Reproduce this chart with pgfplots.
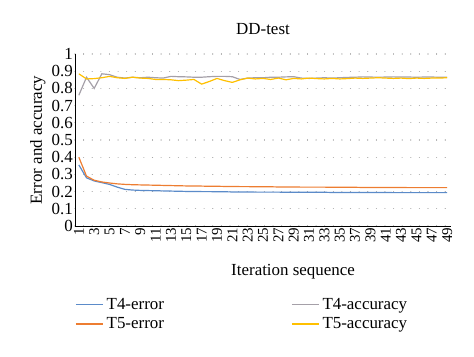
\documentclass[border=0pt]{standalone}
\usepackage{pgfplots}
\pgfplotsset{compat=1.18}
\usepackage{fontspec}
\setmainfont{Liberation Serif}
\definecolor{cblue}{HTML}{5B8BC9}
\definecolor{corange}{HTML}{ED7D31}
\definecolor{cgray}{HTML}{A5A0A8}
\definecolor{cyellow}{HTML}{FFC000}
\begin{document}
\begin{tikzpicture}
\useasboundingbox (-75bp,-131bp) rectangle (399bp,226bp);
\begin{axis}[
  at={(0,0)}, anchor=south west,
  scale only axis, width=376bp, height=172bp,
  xmin=0.5, xmax=49.5, ymin=0, ymax=1,
  xtick={1,3,...,49},
  ytick={0,0.1,...,1.0},
  yticklabels={0,0.1,0.2,0.3,0.4,0.5,0.6,0.7,0.8,0.9,1},
  axis x line*=bottom, axis y line*=left,
  axis line style={black, line width=0.9pt, -},
  major tick length=0pt,
  ymajorgrids,
  grid style={gray!70, line width=1.1pt, dash pattern=on 0.01pt off 8.6bp, line cap=round},
  x tick label style={rotate=90, anchor=east, font=\fontsize{15}{16}\selectfont, inner sep=1.5pt},
  y tick label style={font=\fontsize{17}{18}\selectfont, inner sep=2pt},
  /pgf/number format/assume math mode=true,
  title={DD-test},
  title style={font=\fontsize{17}{19}\selectfont, at={(0.5,1)}, anchor=south, yshift=10bp},
  xlabel={Iteration sequence},
  xlabel style={font=\fontsize{17}{19}\selectfont, at={(0.58,0)}, anchor=north, yshift=-35bp},
  ylabel={Error and accuracy},
  ylabel style={font=\fontsize{17}{19}\selectfont, at={(0,0.5)}, anchor=south, yshift=26bp},
  legend columns=2,
  legend style={draw=none, at={(0,-0.40)}, anchor=north west, font=\fontsize{17}{19}\selectfont,
    /tikz/every even column/.append style={column sep=124bp}, row sep=1bp, inner sep=0pt,
    nodes={inner sep=3pt}},
  legend cell align=left,
  legend image code/.code={\draw[#1, line width=1.5pt] (0bp,0bp) -- (27bp,0bp);},
]
\addplot[color=cblue, line width=1.2pt, mark=none] coordinates {
(1,0.355)(2,0.28)(3,0.262)(4,0.252)(5,0.242)(6,0.226)(7,0.213)(8,0.209)(9,0.207)(10,0.206)
(11,0.205)(12,0.204)(13,0.203)(14,0.202)(15,0.201)(16,0.201)(17,0.200)(18,0.200)(19,0.199)(20,0.199)
(21,0.198)(22,0.198)(23,0.198)(24,0.197)(25,0.197)(26,0.197)(27,0.197)(28,0.196)(29,0.196)(30,0.196)
(31,0.196)(32,0.196)(33,0.196)(34,0.195)(35,0.195)(36,0.195)(37,0.195)(38,0.195)(39,0.195)(40,0.195)
(41,0.195)(42,0.194)(43,0.194)(44,0.194)(45,0.194)(46,0.194)(47,0.194)(48,0.194)(49,0.194)};
\addlegendentry{T4-error}
\addplot[color=cgray, line width=1.2pt, mark=none] coordinates {
(1,0.76)(2,0.865)(3,0.80)(4,0.885)(5,0.88)(6,0.865)(7,0.86)(8,0.865)(9,0.862)(10,0.865)
(11,0.862)(12,0.86)(13,0.87)(14,0.868)(15,0.867)(16,0.865)(17,0.865)(18,0.868)(19,0.87)(20,0.87)
(21,0.868)(22,0.852)(23,0.86)(24,0.862)(25,0.862)(26,0.865)(27,0.865)(28,0.867)(29,0.868)(30,0.86)
(31,0.858)(32,0.86)(33,0.862)(34,0.86)(35,0.862)(36,0.864)(37,0.865)(38,0.867)(39,0.866)(40,0.865)
(41,0.866)(42,0.867)(43,0.866)(44,0.866)(45,0.865)(46,0.866)(47,0.866)(48,0.865)(49,0.865)};
\addlegendentry{T4-accuracy}
\addplot[color=corange, line width=1.2pt, mark=none] coordinates {
(1,0.40)(2,0.29)(3,0.266)(4,0.256)(5,0.250)(6,0.245)(7,0.242)(8,0.240)(9,0.239)(10,0.238)
(11,0.237)(12,0.236)(13,0.235)(14,0.234)(15,0.233)(16,0.233)(17,0.232)(18,0.231)(19,0.231)(20,0.230)
(21,0.230)(22,0.229)(23,0.229)(24,0.228)(25,0.228)(26,0.228)(27,0.227)(28,0.227)(29,0.227)(30,0.226)
(31,0.226)(32,0.226)(33,0.226)(34,0.225)(35,0.225)(36,0.225)(37,0.225)(38,0.224)(39,0.224)(40,0.224)
(41,0.224)(42,0.224)(43,0.224)(44,0.223)(45,0.223)(46,0.223)(47,0.223)(48,0.223)(49,0.223)};
\addlegendentry{T5-error}
\addplot[color=cyellow, line width=1.2pt, mark=none] coordinates {
(1,0.885)(2,0.855)(3,0.857)(4,0.862)(5,0.87)(6,0.862)(7,0.858)(8,0.865)(9,0.86)(10,0.858)
(11,0.852)(12,0.852)(13,0.85)(14,0.845)(15,0.848)(16,0.852)(17,0.825)(18,0.84)(19,0.858)(20,0.845)
(21,0.835)(22,0.85)(23,0.86)(24,0.855)(25,0.858)(26,0.852)(27,0.86)(28,0.85)(29,0.858)(30,0.855)
(31,0.86)(32,0.857)(33,0.855)(34,0.858)(35,0.855)(36,0.857)(37,0.86)(38,0.858)(39,0.86)(40,0.862)
(41,0.86)(42,0.858)(43,0.86)(44,0.857)(45,0.86)(46,0.858)(47,0.86)(48,0.86)(49,0.862)};
\addlegendentry{T5-accuracy}
\end{axis}
\end{tikzpicture}
\end{document}
